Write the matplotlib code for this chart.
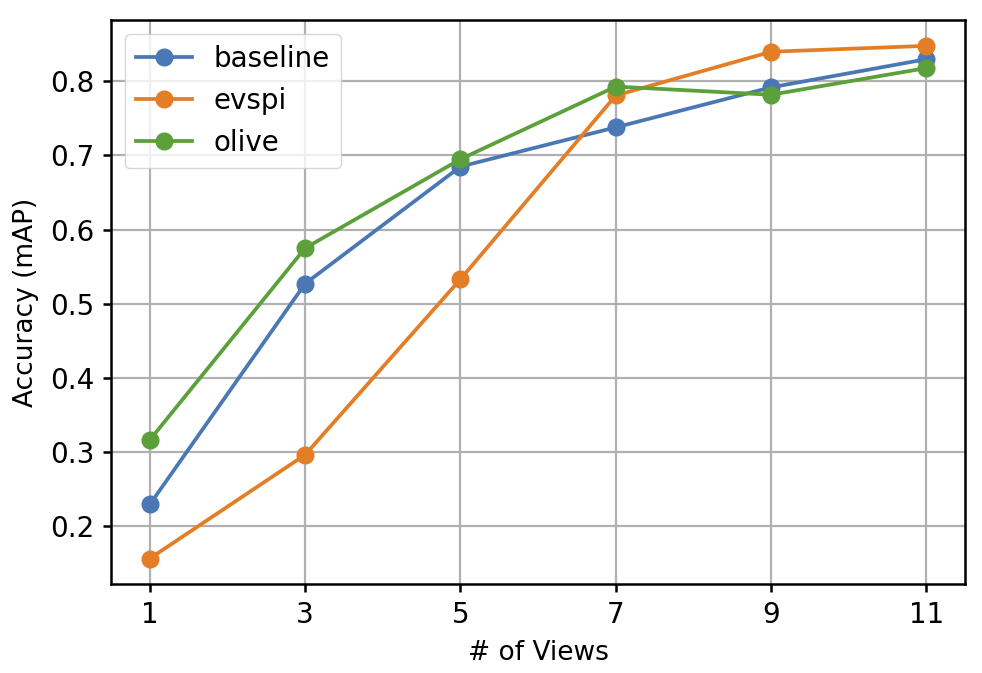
import numpy as np
import matplotlib
matplotlib.use("Agg")
import matplotlib.pyplot as plt

views = [1, 3, 5, 7, 9, 11]
baseline = [0.229, 0.527, 0.685, 0.738, 0.792, 0.830]
evspi = [0.156, 0.296, 0.533, 0.781, 0.840, 0.848]
olive = [0.316, 0.575, 0.695, 0.793, 0.782, 0.818]

series = [("baseline", baseline, "#4a78b5"),
          ("evspi", evspi, "#e37e26"),
          ("olive", olive, "#5ba03a")]

plt.rcParams['font.size'] = 19

fig = plt.figure(figsize=(9.82, 6.73), dpi=100)
ax = fig.add_axes([0.113, 0.132, 0.870, 0.838])

for name, vals, col in series:
    ax.plot(views, vals, marker='o', color=col, lw=2.7, markersize=12, label=name)

ax.set_xticks(views)
ax.set_yticks(np.arange(0.2, 0.81, 0.1))
ax.set_xlabel("# of Views", labelpad=8)
ax.set_ylabel("Accuracy (mAP)", labelpad=8)
ax.grid(True, color="#b0b0b0", lw=1.6)
ax.set_axisbelow(True)
for sp in ax.spines.values():
    sp.set_linewidth(1.8)
ax.tick_params(width=1.8, length=6, pad=6, labelsize=20)
ax.legend(loc='upper left', fontsize=20)

fig.savefig("out.png", dpi=100)
